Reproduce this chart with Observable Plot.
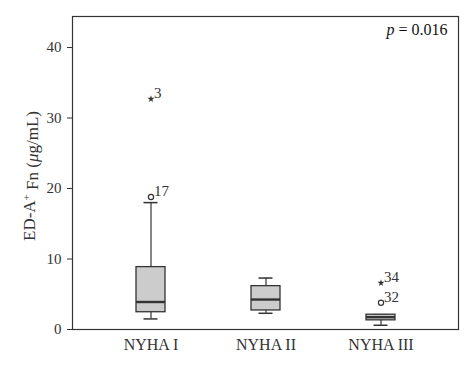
<!DOCTYPE html>
<html>
<head>
<meta charset="utf-8">
<script src="https://cdn.jsdelivr.net/npm/d3@7"></script>
<script src="https://cdn.jsdelivr.net/npm/@observablehq/plot@0.6"></script>
<style>
  html, body { margin: 0; padding: 0; background: #fff; }
</style>
</head>
<body>
<div id="chart"></div>
<script>
const categories = ["NYHA I", "NYHA II", "NYHA III"];
const whiskerLow = [1.5, 2.3, 0.6];
const q1 = [2.45, 2.7, 1.3];
const median = [3.9, 4.25, 1.75];
const q3 = [8.85, 6.15, 2.1];
const whiskerHigh = [18.0, 7.3, 2.1];

const outlierGroup = ["NYHA I", "NYHA I", "NYHA III", "NYHA III"];
const outlierValue = [32.7, 18.8, 6.6, 3.8];
const outlierId = ["3", "17", "34", "32"];
const outlierKind = ["extreme", "mild", "extreme", "mild"];

const yTicks = [0, 10, 20, 30, 40];
const yLabel = "ED-A+ Fn (μg/mL)";
const pText = "p = 0.016";

const boxes = categories.map((c, i) => ({
  group: c, lo: whiskerLow[i], q1: q1[i], med: median[i], q3: q3[i], hi: whiskerHigh[i]
}));
const outliers = outlierValue.map((v, i) => ({
  group: outlierGroup[i], value: v, id: outlierId[i], kind: outlierKind[i]
}));

const ink = "#333";
const svg = Plot.plot({
  width: 474,
  height: 372,
  marginLeft: 72,
  marginRight: 16,
  marginTop: 16,
  marginBottom: 43,
  style: { fontFamily: "Liberation Serif, serif", fontSize: "15px", color: ink, background: "#fff" },
  x: { domain: categories, type: "band", paddingInner: 0.75, paddingOuter: 0.543, label: null },
  y: { domain: [0, 44.4] },
  marks: [
    Plot.axisX({ tickSize: 0, tickPadding: 9, fontSize: 16, label: null }),
    Plot.axisY({ ticks: yTicks, tickSize: 5, tickPadding: 6, fontSize: 15, label: null }),
    Plot.text([yLabel], { frameAnchor: "left", text: d => d, rotate: -90, dx: -43, dy: 3,
      textAnchor: "middle", lineAnchor: "middle", fontSize: 17, fill: ink }),
    Plot.ruleX(boxes, { x: "group", y1: "q3", y2: "hi", stroke: ink, strokeWidth: 1.2 }),
    Plot.ruleX(boxes, { x: "group", y1: "lo", y2: "q1", stroke: ink, strokeWidth: 1.2 }),
    Plot.tickY(boxes, { x: "group", y: "hi", stroke: ink, strokeWidth: 1.5, insetLeft: 7.5, insetRight: 7.5 }),
    Plot.tickY(boxes, { x: "group", y: "lo", stroke: ink, strokeWidth: 1.5, insetLeft: 7.5, insetRight: 7.5 }),
    Plot.barY(boxes, { x: "group", y1: "q1", y2: "q3", fill: "#cccccc", stroke: ink, strokeWidth: 1.3 }),
    Plot.tickY(boxes, { x: "group", y: "med", stroke: ink, strokeWidth: 2.4 }),
    Plot.dot(outliers.filter(d => d.kind === "mild"), { x: "group", y: "value", r: 2.6, stroke: ink, fill: "#fff", strokeWidth: 1.2 }),
    Plot.dot(outliers.filter(d => d.kind === "extreme"), { x: "group", y: "value", symbol: "star", r: 2.2, fill: ink, stroke: "none" }),
    Plot.text(outliers, { x: "group", y: "value", text: "id", textAnchor: "start", lineAnchor: "bottom", dx: 3, dy: -1, fontSize: 15, fill: ink }),
    Plot.text([pText], { frameAnchor: "top-right", text: d => d, dx: -11, dy: 7, lineAnchor: "top", textAnchor: "end", fontSize: 16, fill: "#111" }),
    Plot.frame({ stroke: ink, strokeWidth: 1.2 })
  ]
});

document.getElementById("chart").appendChild(svg);

// Rich formatting for the y label (superscript +, italic μ) and italic p
d3.select(svg).selectAll("text").each(function () {
  const t = d3.select(this);
  const content = this.textContent;
  if (content === yLabel || content === pText) {
    const tsp = t.select("tspan");
    const target = tsp.empty() ? t : tsp;
    target.text(null);
    if (content === yLabel) {
      target.append("tspan").text("ED-A");
      target.append("tspan").attr("dy", "-0.45em").attr("font-size", "11px").text("+");
      target.append("tspan").attr("dy", "0.45em").text(" Fn (");
      target.append("tspan").attr("font-style", "italic").text("μ");
      target.append("tspan").text("g/mL)");
    } else {
      target.append("tspan").attr("font-style", "italic").text("p");
      target.append("tspan").text(" = 0.016");
    }
  }
});
</script>
</body>
</html>
